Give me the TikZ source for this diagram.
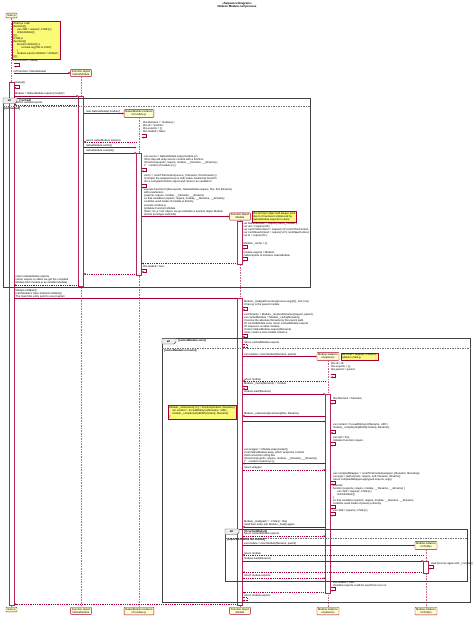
\documentclass[tikz,border=0pt]{standalone}
\usepackage{fontspec}
\setmainfont{Liberation Sans}
\usetikzlibrary{arrows.meta,positioning}

\definecolor{umlred}{HTML}{A80036}
\definecolor{umlbox}{HTML}{FEFECE}
\definecolor{umlnote}{HTML}{FBFB77}
\definecolor{umlgroup}{HTML}{EEEEEE}

\tikzset{
  every node/.style={font=\fontsize{2.7}{3}\selectfont},
  actor/.style={draw=umlred, fill=umlbox, line width=0.35pt, rounded corners=0.6pt,
    align=center, inner xsep=1.2pt, inner ysep=1.1pt},
  life/.style={draw=umlred!60, line width=0.25pt, dash pattern=on 1.6pt off 1pt},
  actbar/.style={draw=umlred!85, fill=white, line width=0.25pt},
  msg/.style={draw=umlred, line width=0.25pt, shorten <=2.5pt, shorten >=2.5pt,
    -{Triangle[length=2pt,width=1.6pt]}},
  ret/.style={msg, dash pattern=on 1pt off 0.8pt},
  selfmsg/.style={draw=umlred, line width=0.25pt, -{Triangle[length=2pt,width=1.6pt]}},
  selfback/.style={selfmsg, dash pattern=on 1pt off 0.8pt},
  lab/.style={anchor=south west, inner sep=0pt, align=left},
  blk/.style={anchor=north west, inner sep=0pt, align=left},
  memo/.style={draw=umlred, fill=umlnote, line width=0.35pt, align=left, inner sep=1pt},
  grp/.style={draw=black!75, line width=0.6pt},
  grptab/.style={draw=black!75, fill=umlgroup, line width=0.4pt},
  elsesep/.style={draw=black!55, line width=0.3pt, dash pattern=on 1.5pt off 1pt},
  cond/.style={anchor=west, inner sep=0pt, font=\fontsize{2.7}{3}\selectfont\bfseries},
}

\newcommand\selfcall[2]{\draw[selfmsg] (#1B |- 0,#2) ++(2.5,0) -- ++(5,0) -- ++(0,3) -- ++(-5,0);}
\newcommand\selfret[2]{\draw[selfback] (#1B |- 0,#2) ++(2.5,0) -- ++(5,0) -- ++(0,3) -- ++(-5,0);}

\begin{document}
\begin{tikzpicture}[x=1pt,y=-1pt]
\useasboundingbox (0,0) rectangle (474,619);

\node[font=\fontsize{2.9}{3.3}\selectfont\bfseries, align=center] (title) at (237,5)
  {<<Sequence Diagram>>\\NodeJs Module call process};

\node[actor] (mainT) at (11.5,15.5) {main.js};
\node[actor] (nativeT) at (81,73) {Function object\\NativeModule};
\node[actor] (nmodT) at (139,113.5) {NativeModule instance\\of module.js};
\node[actor] (modfnT) at (240,216.5) {Function object\\Module};
\node[actor] (parentT) at (328,356.5) {Module instance\\of parent.js};
\node[actor] (childT) at (426,545.5) {Module instance\\of child.js};

\node[actor, anchor=north] (mainB) at (11.5,607) {main.js};
\node[actor, anchor=north] (nativeB) at (81,607) {Function object\\NativeModule};
\node[actor, anchor=north] (nmodB) at (139,607) {NativeModule instance\\of module.js};
\node[actor, anchor=north] (modfnB) at (240,607) {Function object\\Module};
\node[actor, anchor=north] (parentB) at (328,607) {Module instance\\of parent.js};
\node[actor, anchor=north] (childB) at (426,607) {Module instance\\of child.js};

\foreach \p in {main,native,nmod,modfn,parent,child}
  \draw[life] (\p T) -- (\p B);

\draw[actbar] (9,82) rectangle (14,605.5);
\draw[actbar] (78.5,96) rectangle (83.5,286.5);
\draw[actbar] (136.5,153) rectangle (141.5,275);
\draw[actbar] (237.5,221.5) rectangle (242.5,264.5);
\draw[actbar] (237.5,298.5) rectangle (242.5,605);
\draw[actbar] (325.5,394) rectangle (330.5,593.5);
\draw[actbar] (423.5,561) rectangle (428.5,573.5);

\node[memo, anchor=north west] (code) at (12,21) {//main.js code\\
(function()\{\\
\hspace{4pt}var child = require('./child.js');\\
\hspace{4pt}child.doWork();\\
\})();\\
//child.js\\
(function()\{\\
\hspace{4pt}function doWork() \{\\
\hspace{8pt}console.log('this is child');\\
\hspace{4pt}\}\\
\hspace{4pt}module.exports.doWork = doWork;\\
\})();};

\node[lab] (l1) at (13.5,62.6) {ref Function: startup};
\selfcall{main}{63.5}
\node[lab] (l2) at (13.5,72.4) {ref Function: NativeModule};
\draw[msg, shorten >=0pt] (mainB |- nativeT.west) -- (nativeT.west);
\node[lab] (l3) at (15,84.2) {startup()};
\selfcall{main}{85}
\node[lab] (l4) at (15,95.3) {Module = NativeModule.require('module')};
\draw[msg] (mainB |- 0,96) -- (nativeB |- 0,96);

\draw[grp] (3,98) rectangle (310,287.5);
\draw[grptab] (3,98) -- (17,98) -- (17,101.5) -- (15,103.5) -- (3,103.5) -- cycle;
\node[font=\fontsize{2.7}{3}\selectfont\bfseries] (alt1) at (9.5,100.7) {alt};
\node[cond] (c1) at (19.5,100.5) {[cached]};
\node[lab] (l5) at (16,104) {return cached.exports};
\draw[ret] (nativeB |- 0,104.7) -- (mainB |- 0,104.7);
\draw[elsesep] (3,106.5) -- (310,106.5);
\node[cond] (e1) at (4,108.6) {[not cached]};

\node[lab] (l6) at (86,112.8) {new NativeModule('module')};
\draw[msg, shorten >=0pt] (nativeB |- nmodT.west) -- (nmodT.west);
\node[blk] (b1) at (143,121.5) {this.filename = 'module.js';\\this.id = 'module';\\this.exports = \{\};\\this.loaded = false;};
\selfcall{nmod}{134.5}
\node[lab] (l7) at (86,141.4) {return nativeModule instance};
\draw[ret] (nmodB |- 0,142) -- (nativeB |- 0,142);
\node[lab] (l8) at (86,147) {nativeModule.cache()};
\draw[msg] (nativeB |- 0,147.6) -- (nmodB |- 0,147.6);
\node[lab] (l9) at (86,152.4) {nativeModule.compile()};
\draw[msg] (nativeB |- 0,153) -- (nmodB |- 0,153);

\node[blk] (b2) at (144,155.8) {var source = NativeModule.wrap('module.js');\\
//this step will wrap source content with a function\\
//(function(exports, require, module, \_\_filename, \_\_dirname) \{\\
//\hspace{3pt}content of module.js \});};
\selfcall{nmod}{168.3}
\node[blk] (b3) at (144,174.5) {var fn = runInThisContext(source, \{ filename: this.filename \});\\
//compile the wrapped source with native JavaScript function\\
//to a compiled function object and return it as variable fn};
\selfcall{nmod}{184.5}
\node[blk] (b4) at (144,188.3) {execute function fn(this.exports, NativeModule.require, this, this.filename)\\
with parameters\\
(exports, require, module, \_\_filename, \_\_dirname)\\
so that variables (exports, require, module, \_\_filename, \_\_dirname)\\
could be used inside of module.js directly};
\node[lab] (l10) at (144,215.8) {execute module.js\\
(initialize Function Module\\
(Note: it's a 'root' object, we just initialize a function object Module\\
and its prototype methods)};
\draw[msg, shorten >=0pt] (nmodB |- modfnT.west) -- (modfnT.west);
\node[memo, right=1.5pt of modfnT] (n2) {this function object will always exist\\
due to it has been referenced by\\
nativeModule.exports in cache};

\node[blk] (b5) at (243.5,222.3) {var NativeModule = require('native\_module');\\
var util = require('util');\\
var runInThisContext = require('vm').runInThisContext;\\
var runInNewContext = require('vm').runInNewContext;\\
var fs = require('fs');};
\node[lab] (l11) at (243.5,245) {Module.\_cache = \{\};};
\selfcall{modfn}{245.6}
\node[lab] (l12) at (243.5,257) {module.exports = Module;\\//add exports to instance nativeModule};
\selfcall{modfn}{257.6}
\draw[ret] (modfnB |- 0,263.5) -- (nmodB |- 0,263.5);
\node[lab] (l13) at (143,268.3) {this.loaded = true;};
\selfcall{nmod}{269}
\draw[ret] (nmodB |- 0,274) -- (nativeB |- 0,274);
\node[lab] (l14) at (15.5,284.6) {return nativeModule.exports\\
(when require is called, we got the compiled\\
Module from module.js as variable Module)};
\draw[ret] (nativeB |- 0,285.3) -- (mainB |- 0,285.3);

\node[lab] (l15) at (15.5,297.8) {Module.runMain()\\
(call Module's class method runMain())\\
The main files entry point to use program};
\draw[msg] (mainB |- 0,298.5) -- (modfnB |- 0,298.5);
\node[lab] (l16) at (244,306.3) {Module.\_load(path.resolve(process.argv[1]), null, true)\\//main.js is the parent module};
\selfcall{modfn}{307}
\node[lab] (l17) at (244,333.3) {var filename = Module.\_resolveFilename(request, parent);\\
var cachedModule = Module.\_cache[filename];\\
//resolve the absolute filename by the parent path\\
//if cachedModule exist, return cachedModule.exports\\
//if request is a native module,\\
//return NativeModule.require(filename)\\
//else create a new module instance};
\selfcall{modfn}{334}

\draw[grp] (162,338.5) rectangle (470,602);
\draw[grptab] (162,338.5) -- (176,338.5) -- (176,342) -- (174,344) -- (162,344) -- cycle;
\node[font=\fontsize{2.7}{3}\selectfont\bfseries] (alt2) at (168.5,341.2) {alt};
\node[cond] (c2) at (178,341) {[cachedModule exist]};
\node[lab] (l18) at (244,343.8) {return cachedModule.exports};
\selfret{modfn}{344.3}
\draw[elsesep] (162,348.3) -- (470,348.3);
\node[cond] (e2) at (164,350.4) {[cachedModule not exist]};

\node[lab] (l19) at (244,355.8) {var module = new Module(filename, parent)};
\draw[msg, shorten >=0pt] (modfnB |- parentT.west) -- (parentT.west);
\node[memo, right=1.5pt of parentT] (n3) {var child = require('./child.js');\\called in main.js};
\node[blk] (b6) at (331,362.8) {this.id = id;\\this.exports = \{\};\\this.parent = parent;};
\selfcall{parent}{374.3}
\node[lab] (l20) at (244,380.3) {return module};
\draw[ret] (parentB |- 0,381) -- (modfnB |- 0,381);
\node[lab] (l21) at (244,385.3) {Module.\_cache[filename] = module;};
\selfcall{modfn}{386}
\node[lab] (l22) at (244,393.3) {module.load(filename)};
\draw[msg] (modfnB |- 0,394) -- (parentB |- 0,394);
\node[lab] (l23) at (333,400) {this.filename = filename;};
\selfcall{parent}{400.6}
\node[lab] (l24) at (244,415.3) {Module.\_extensions[extension](this, filename)};
\draw[msg] (parentB |- 0,416) -- (modfnB |- 0,416);
\draw[msg] (modfnB |- 0,421.5) -- (parentB |- 0,421.5);
\node[memo, anchor=north east] (n4) at (236.5,405) {Module.\_extensions['.js'] = function(module, filename) \{\\
\hspace{3pt}var content = fs.readFileSync(filename, 'utf8');\\
\hspace{3pt}module.\_compile(stripBOM(content), filename);\\
\};};
\node[lab] (l25) at (333,429.3) {var content = fs.readFileSync(filename, 'utf8');\\module.\_compile(stripBOM(content), filename);};
\selfcall{parent}{430}
\node[lab] (l26) at (333,441.8) {var self = this;\\initialize Function require};
\selfcall{parent}{442.5}
\node[lab] (l27) at (244,462.8) {var wrapper = Module.wrap(content);\\
//call NativeModule.wrap, which wraps the content\\
//with a function string like\\
//(function(exports, require, module, \_\_filename, \_\_dirname)\{\\
//\hspace{3pt}content of parent.js \});};
\draw[msg] (parentB |- 0,463.5) -- (modfnB |- 0,463.5);
\node[lab] (l28) at (244,469.3) {return wrapper};
\draw[ret] (modfnB |- 0,470) -- (parentB |- 0,470);
\node[lab] (l29) at (333,480.8) {var compiledWrapper = runInThisContext(wrapper, \{filename: filename\});\\
var args = [self.exports, require, self, filename, dirname];\\
return compiledWrapper.apply(self.exports, args);};
\selfcall{parent}{481.5}
\node[lab] (l30) at (333,505) {execute\\
function (exports, require, module, \_\_filename, \_\_dirname) \{\\
\hspace{4pt}var child = require('./child.js');\\
\hspace{4pt}child.doWork();\\
\}\\
so that variables (exports, require, module, \_\_filename, \_\_dirname)\\
could be used inside of parent.js directly};
\selfcall{parent}{505.6}
\node[lab] (l31) at (333,512) {var child = require('./child.js');};
\selfcall{parent}{512.6}
\node[lab] (l32) at (244,526.3) {Module.\_load(path = './child.js', this)\\//and then enter into Module.\_load() again};
\draw[msg] (parentB |- 0,527) -- (modfnB |- 0,527);

\draw[grp] (225,529) rectangle (467,580.8);
\draw[grptab] (225,529) -- (239,529) -- (239,532.5) -- (237,534.5) -- (225,534.5) -- cycle;
\node[font=\fontsize{2.7}{3}\selectfont\bfseries] (alt3) at (231.5,531.7) {alt};
\node[cond] (c3) at (244,531.3) {[if cachedModule]};
\node[lab] (l33) at (244,535.6) {return cachedModule.exports};
\draw[ret] (modfnB |- 0,536.2) -- (parentB |- 0,536.2);
\draw[elsesep] (225,537.9) -- (467,537.9);
\node[cond] (e3) at (227,539.8) {[required module not cached]};
\node[lab] (l34) at (244,544.8) {var module = new Module(filename, parent)};
\draw[msg, shorten >=0pt] (modfnB |- childT.west) -- (childT.west);
\node[lab] (l35) at (244,554.3) {return module};
\draw[ret] (childB |- 0,555) -- (modfnB |- 0,555);
\node[lab] (l36) at (244,560.3) {module.load(filename)};
\draw[msg] (modfnB |- 0,561) -- (childB |- 0,561);
\node[lab] (l37) at (431,565) {load process again with \_compile()};
\selfcall{child}{565.6}
\draw[ret] (childB |- 0,572.3) -- (modfnB |- 0,572.3);
\node[lab] (l38) at (244,577.5) {return module.exports};
\draw[ret] (modfnB |- 0,578.2) -- (parentB |- 0,578.2);

\node[lab] (l39) at (333,587) {this.loaded = true;\\//module.exports could be used from now on};
\selfcall{parent}{587.6}
\draw[ret] (parentB |- 0,592.6) -- (modfnB |- 0,592.6);
\node[lab] (l40) at (244,597) {return module.exports};
\selfret{modfn}{597.6}
\draw[ret] (modfnB |- 0,604.3) -- (mainB |- 0,604.3);
\end{tikzpicture}
\end{document}
